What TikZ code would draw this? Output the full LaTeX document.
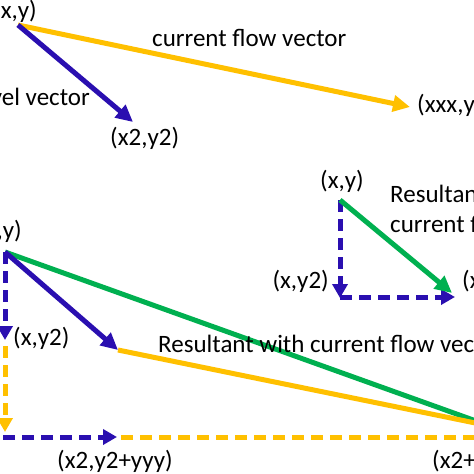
\documentclass[tikz,border=0pt]{standalone}
\usepackage{fontspec}
\setmainfont{Carlito}
\usetikzlibrary{arrows.meta}
\definecolor{vyellow}{HTML}{FFC000}
\definecolor{vblue}{HTML}{2A0FB0}
\definecolor{vgreen}{HTML}{00B050}
\tikzset{
  lbl/.style={inner sep=0pt, font=\fontsize{25}{29}\selectfont, text=black},
  vec/.style={line width=5pt, -{Triangle[length=17pt,width=16pt]}},
  seg/.style={line width=5pt},
  dsh/.style={line width=5pt, dash pattern=on 12pt off 7pt},
  dvec/.style={dsh, -{Triangle[length=14pt,width=15pt]}},
}
\begin{document}
\begin{tikzpicture}[x=1pt,y=-1pt]
\useasboundingbox (0,0) rectangle (474,474);
\clip (0,0) rectangle (474,474);
\fill[white] (0,0) rectangle (474,474);
% ---------- top ----------
\coordinate (A) at (18,25);
\coordinate (Ayel) at (410,107);
\coordinate (Ablu) at (133,122);
\draw[vec, vyellow] (A) -- (Ayel);
\draw[vec, vblue] (A) -- (Ablu);
\node[lbl, anchor=base east] (txy) at (37,18) {(x,y)};
\node[lbl, anchor=base west] (tcfv) at (152,46) {current flow vector};
\node[lbl, anchor=base east] (ttv) at (90,105) {Travel vector};
\node[lbl, anchor=base west] (txxx) at (417,112) {(xxx,yyy)};
\node[lbl, anchor=base west] (tx2) at (110,145) {(x2,y2)};
% ---------- bottom left ----------
\coordinate (B) at (5,252);
\coordinate (Bdn) at (5,340);
\coordinate (Bdn2) at (5,346);
\coordinate (Bbot) at (5,432);
\coordinate (Hl) at (3,437);
\coordinate (Hm) at (117,437);
\coordinate (Hm2) at (121,437);
\coordinate (Bblu) at (118,350);
\coordinate (E) at (490,426);
\coordinate (Hr) at (490,437);
\draw[seg, vgreen] (B) -- (E);
\draw[seg, vyellow] (Bblu) -- (E);
\draw[vec, vblue] (B) -- (Bblu);
\draw[dvec, vblue] (B) -- (Bdn);
\draw[dvec, vyellow] (Bdn2) -- (Bbot);
\draw[dsh, vyellow] (Hm2) -- (Hr);
\draw[dvec, vblue] (Hl) -- (Hm);
\node[lbl, anchor=base east] (bxy) at (22,238) {(x,y)};
\node[lbl, anchor=base west] (bxy2) at (13,345) {(x,y2)};
\node[lbl, anchor=base west] (bres) at (158,352) {Resultant with current flow vector};
\node[lbl, anchor=base west] (bx2) at (57,468) {(x2,y2+yyy)};
\node[lbl, anchor=base west] (bx2x) at (432,468) {(x2+xxx,y2+yyy)};
% ---------- right triangle ----------
\coordinate (P) at (340,200);
\coordinate (Q) at (340,298);
\coordinate (Q2) at (340,297);
\coordinate (R) at (455,297);
\coordinate (Rg) at (452,293);
\draw[dvec, vblue] (P) -- (Q);
\draw[dvec, vblue] (Q2) -- (R);
\draw[vec, vgreen] (P) -- (Rg);
\node[lbl, anchor=base west] (rxy) at (320,188) {(x,y)};
\node[lbl, anchor=base east] (rxy2) at (329,288) {(x,y2)};
\node[lbl, anchor=base west] (rres) at (390,202) {Resultant with};
\node[lbl, anchor=base west] (rres2) at (390,232) {current flow vector};
\node[lbl, anchor=base west] (rx2) at (462,288) {(x2,y2)};
\end{tikzpicture}
\end{document}
